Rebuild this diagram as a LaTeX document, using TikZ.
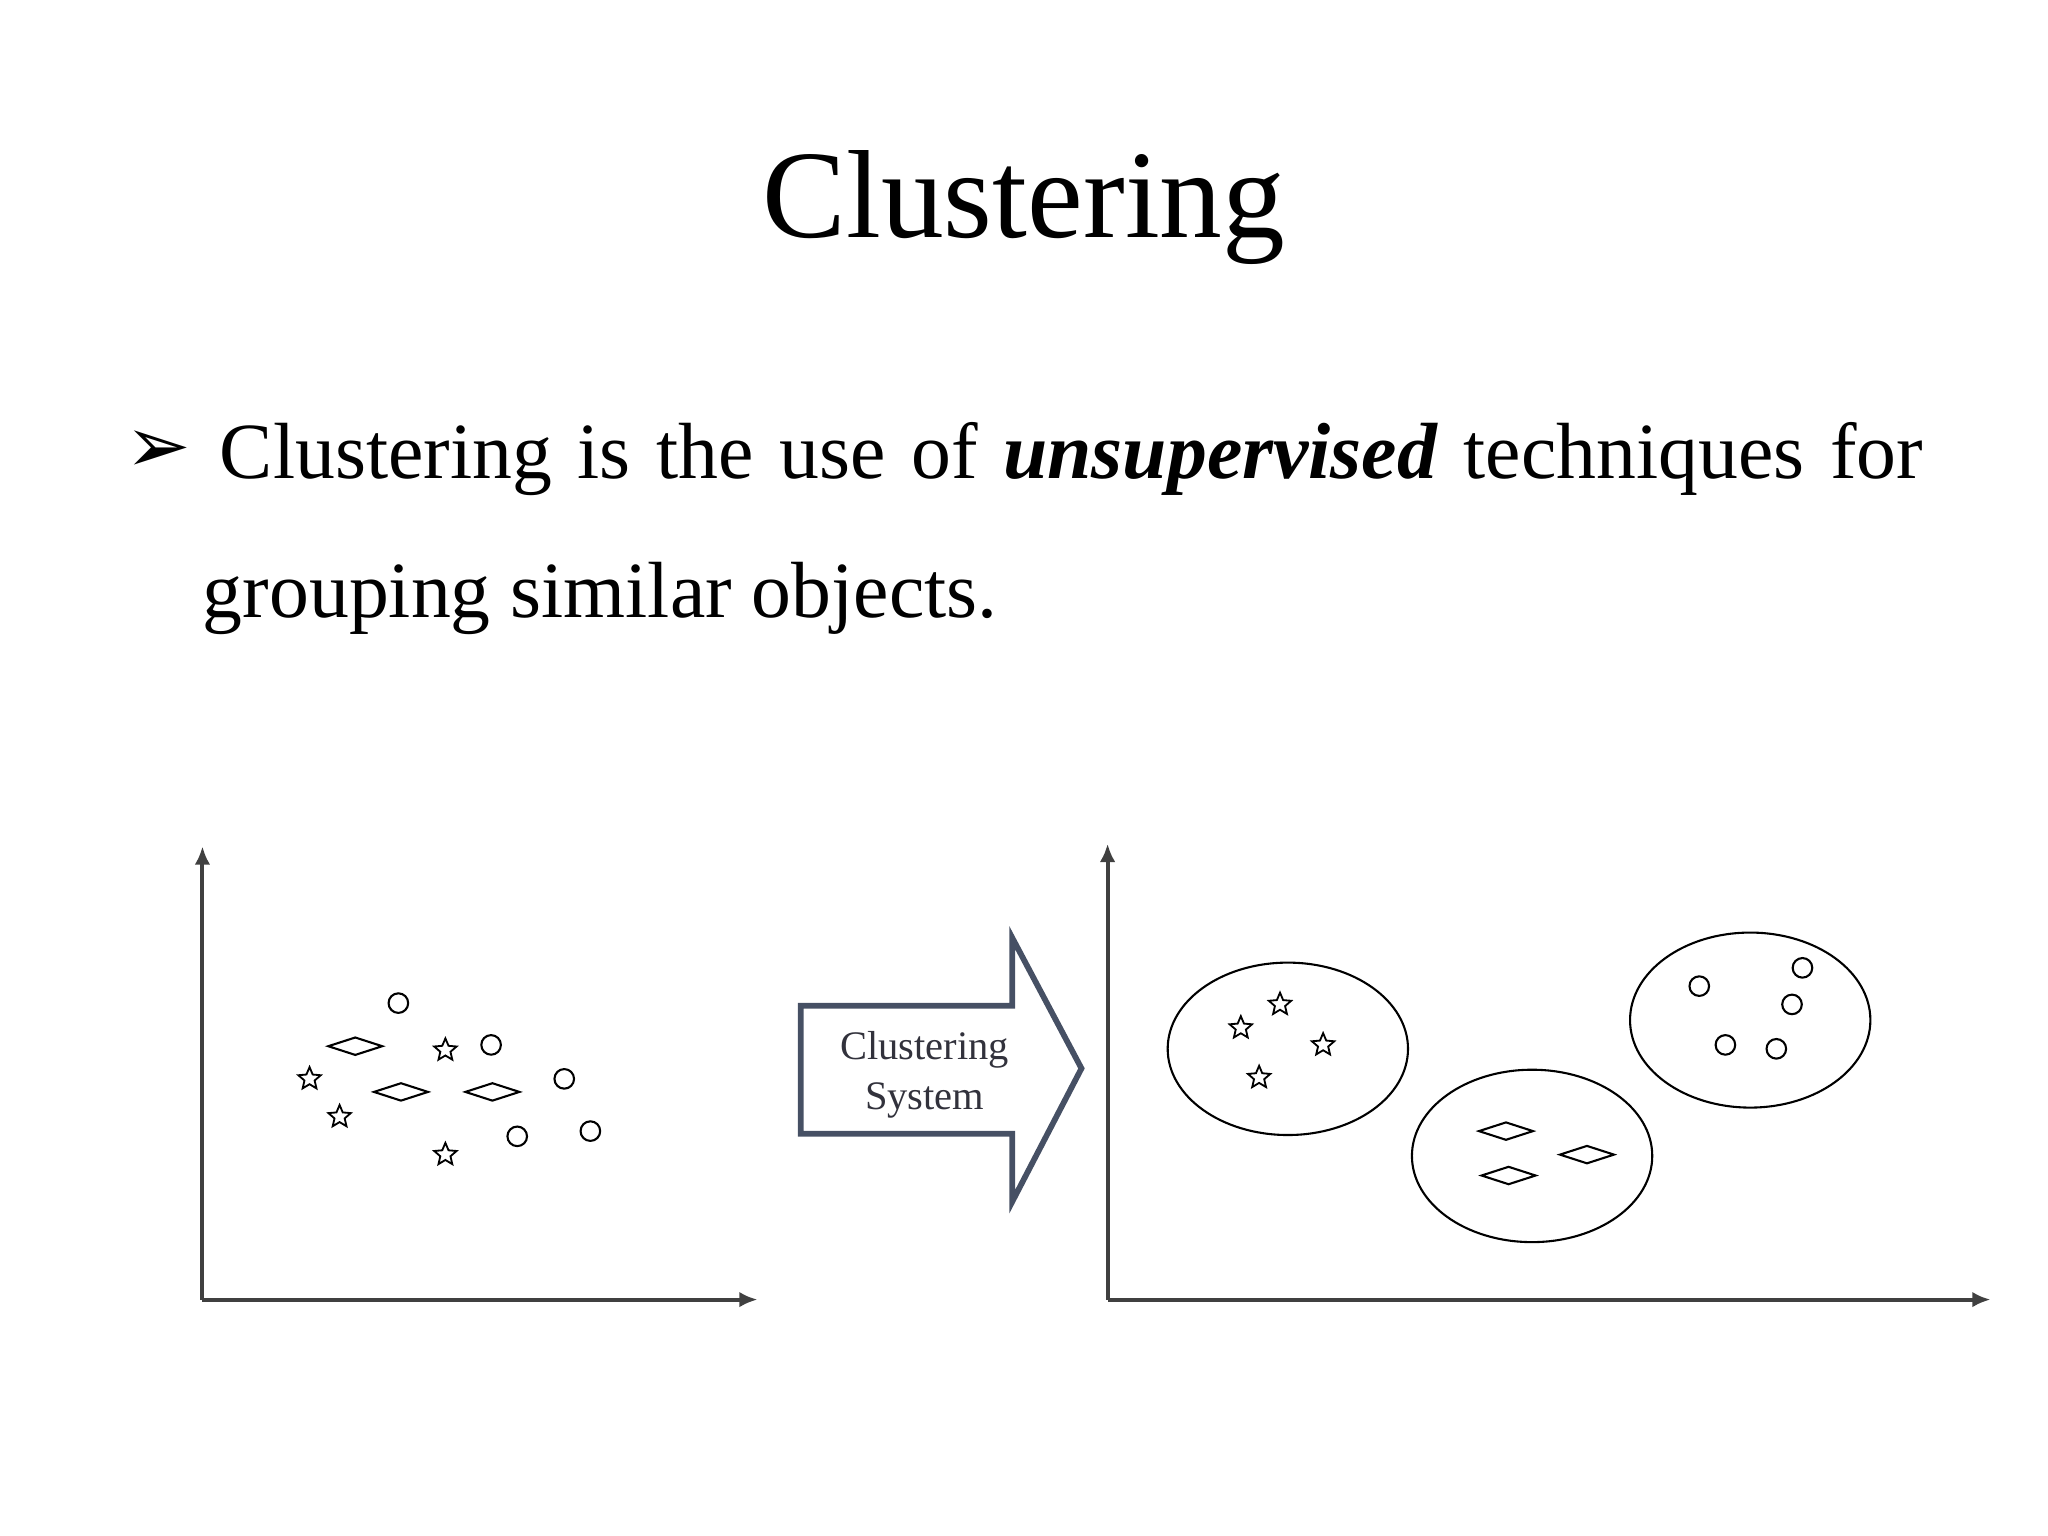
\documentclass[tikz,border=0pt]{standalone}
\usepackage{fontspec}
\setmainfont{Liberation Serif}
\newfontfamily\djv{DejaVu Sans}
\usetikzlibrary{shapes.geometric,arrows.meta}
\begin{document}
\begin{tikzpicture}[x=0.5pt,y=-0.5pt,
  ax/.style={line width=1.5pt,draw=black!75,-{Latex[length=7pt,width=6pt]}},
  circ/.style={circle,draw,line width=0.8pt,minimum size=7.5pt,inner sep=0},
  dia/.style={diamond,draw,line width=0.8pt,minimum width=21pt,minimum height=7pt,inner sep=0},
  st/.style={star,star points=5,star point ratio=2.2,draw,line width=0.7pt,minimum size=9pt,inner sep=0},
  clu/.style={ellipse,draw,line width=0.8pt,minimum width=92pt,minimum height=66pt}]
\path[use as bounding box] (0,0) rectangle (1568,1176);
\node[anchor=base,font=\fontsize{48}{56}\selectfont] (title) at (784,182) {Clustering};
\node[anchor=base west,inner sep=0,font=\djv\fontsize{30}{34}\selectfont] (bul) at (96,362) {➢};
\node[anchor=base west,inner sep=0,font=\fontsize{30.5}{36}\selectfont] (l1) at (168,366)
  {\makebox[652pt][s]{Clustering is the use of \textbf{\textit{unsupervised}} techniques for}};
\node[anchor=base west,inner sep=0,font=\fontsize{30.5}{36}\selectfont] (l2) at (155,473) {grouping similar objects.};
% axes
\coordinate (o1) at (155,995);
\coordinate (y1) at (155,648);
\coordinate (x1) at (580,995);
\draw[ax] (o1) -- (y1);
\draw[ax] (o1) -- (x1);
\coordinate (o2) at (848,995);
\coordinate (y2) at (848,646);
\coordinate (x2) at (1524,995);
\draw[ax] (o2) -- (y2);
\draw[ax] (o2) -- (x2);
% left points
\foreach \p [count=\i] in {(305,768),(376,800),(432,826),(396,870),(452,866)} \node[circ] (lc\i) at \p {};
\foreach \p [count=\i] in {(272,801),(307,836),(377,836)} \node[dia] (ld\i) at \p {};
\foreach \p [count=\i] in {(341,804),(237,826),(260,855),(341,884)} \node[st] (ls\i) at \p {};
% block arrow
\draw[line width=2.2pt,draw={rgb,255:red,70;green,80;blue,100},line join=miter]
  (613,770) -- (775,770) -- (775,718) -- (828,818) -- (775,920) -- (775,868) -- (613,868) -- cycle;
\node[align=center,font=\fontsize{15.5}{19}\selectfont,text={rgb,255:red,50;green,50;blue,60}] (cs) at (708,823) {Clustering\\System};
% right clusters
\node[clu] (e1) at (986,803) {};
\node[clu] (e2) at (1173,885) {};
\node[clu,minimum height=67pt] (e3) at (1340,781) {};
\foreach \p [count=\i] in {(980,769),(950,787),(1013,800),(964,825)} \node[st] (rs\i) at \p {};
\foreach \p [count=\i] in {(1153,866),(1215,884),(1155,900)} \node[dia] (rd\i) at \p {};
\foreach \p [count=\i] in {(1301,755),(1380,741),(1372,769),(1321,800),(1360,803)} \node[circ] (rc\i) at \p {};
\end{tikzpicture}
\end{document}
